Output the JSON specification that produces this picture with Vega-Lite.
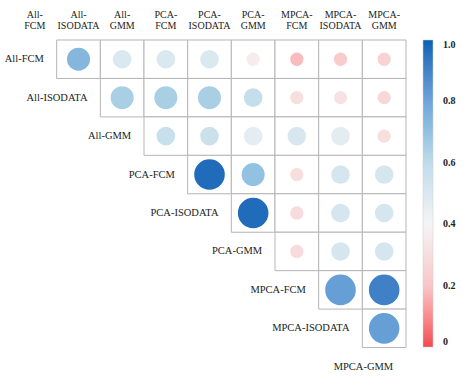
{
  "$schema": "https://vega.github.io/schema/vega-lite/v6.json",
  "width": 393,
  "height": 346,
  "autosize": {"type": "none"},
  "padding": {"left": 13, "top": 40, "right": 68, "bottom": 0},
  "config": {"view": {"stroke": null}, "font": "'Liberation Serif', 'Times New Roman', serif"},
  "datasets": {
    "cells": [
      {"r": "All-FCM", "c": "All-ISODATA", "v": 0.74},
      {"r": "All-FCM", "c": "All-GMM", "v": 0.5},
      {"r": "All-FCM", "c": "PCA-FCM", "v": 0.5},
      {"r": "All-FCM", "c": "PCA-ISODATA", "v": 0.5},
      {"r": "All-FCM", "c": "PCA-GMM", "v": 0.36},
      {"r": "All-FCM", "c": "MPCA-FCM", "v": 0.18},
      {"r": "All-FCM", "c": "MPCA-ISODATA", "v": 0.22},
      {"r": "All-FCM", "c": "MPCA-GMM", "v": 0.25},
      {"r": "All-ISODATA", "c": "All-GMM", "v": 0.65},
      {"r": "All-ISODATA", "c": "PCA-FCM", "v": 0.65},
      {"r": "All-ISODATA", "c": "PCA-ISODATA", "v": 0.65},
      {"r": "All-ISODATA", "c": "PCA-GMM", "v": 0.58},
      {"r": "All-ISODATA", "c": "MPCA-FCM", "v": 0.3},
      {"r": "All-ISODATA", "c": "MPCA-ISODATA", "v": 0.32},
      {"r": "All-ISODATA", "c": "MPCA-GMM", "v": 0.27},
      {"r": "All-GMM", "c": "PCA-FCM", "v": 0.57},
      {"r": "All-GMM", "c": "PCA-ISODATA", "v": 0.56},
      {"r": "All-GMM", "c": "PCA-GMM", "v": 0.46},
      {"r": "All-GMM", "c": "MPCA-FCM", "v": 0.51},
      {"r": "All-GMM", "c": "MPCA-ISODATA", "v": 0.47},
      {"r": "All-GMM", "c": "MPCA-GMM", "v": 0.3},
      {"r": "PCA-FCM", "c": "PCA-ISODATA", "v": 0.97},
      {"r": "PCA-FCM", "c": "PCA-GMM", "v": 0.7},
      {"r": "PCA-FCM", "c": "MPCA-FCM", "v": 0.3},
      {"r": "PCA-FCM", "c": "MPCA-ISODATA", "v": 0.52},
      {"r": "PCA-FCM", "c": "MPCA-GMM", "v": 0.52},
      {"r": "PCA-ISODATA", "c": "PCA-GMM", "v": 0.97},
      {"r": "PCA-ISODATA", "c": "MPCA-FCM", "v": 0.29},
      {"r": "PCA-ISODATA", "c": "MPCA-ISODATA", "v": 0.52},
      {"r": "PCA-ISODATA", "c": "MPCA-GMM", "v": 0.52},
      {"r": "PCA-GMM", "c": "MPCA-FCM", "v": 0.29},
      {"r": "PCA-GMM", "c": "MPCA-ISODATA", "v": 0.52},
      {"r": "PCA-GMM", "c": "MPCA-GMM", "v": 0.52},
      {"r": "MPCA-FCM", "c": "MPCA-ISODATA", "v": 0.82},
      {"r": "MPCA-FCM", "c": "MPCA-GMM", "v": 0.91},
      {"r": "MPCA-ISODATA", "c": "MPCA-GMM", "v": 0.82}
    ],
    "methods": [
      {"m": "All-FCM"}, {"m": "All-ISODATA"}, {"m": "All-GMM"},
      {"m": "PCA-FCM"}, {"m": "PCA-ISODATA"}, {"m": "PCA-GMM"},
      {"m": "MPCA-FCM"}, {"m": "MPCA-ISODATA"}, {"m": "MPCA-GMM"}
    ]
  },
  "layer": [
    {
      "data": {"name": "cells"},
      "mark": {"type": "rect", "fill": "white", "stroke": "#b5b5b5", "strokeWidth": 1},
      "encoding": {
        "x": {"field": "c", "type": "nominal",
          "scale": {"type": "band", "paddingInner": 0, "paddingOuter": 0, "domain": ["All-FCM","All-ISODATA","All-GMM","PCA-FCM","PCA-ISODATA","PCA-GMM","MPCA-FCM","MPCA-ISODATA","MPCA-GMM"]},
          "axis": {"orient": "top", "title": null, "ticks": false, "domain": false, "labelAngle": 0, "labelFontSize": 10, "labelColor": "#222", "labelFont": "'Liberation Serif', 'Times New Roman', serif", "labelPadding": 31, "labelBaseline": "top", "labelLineHeight": 11.5, "labelOverlap": false, "labelBound": false, "labelFlush": false,
            "labelExpr": "[split(datum.label,'-')[0] + '-', split(datum.label,'-')[1]]"}},
        "y": {"field": "r", "type": "nominal",
          "scale": {"type": "band", "paddingInner": 0, "paddingOuter": 0, "domain": ["All-FCM","All-ISODATA","All-GMM","PCA-FCM","PCA-ISODATA","PCA-GMM","MPCA-FCM","MPCA-ISODATA","MPCA-GMM"]},
          "axis": null}
      }
    },
    {
      "data": {"name": "cells"},
      "mark": {"type": "circle", "opacity": 1},
      "encoding": {
        "x": {"field": "c", "type": "nominal"},
        "y": {"field": "r", "type": "nominal"},
        "color": {"field": "v", "type": "quantitative",
          "scale": {"domain": [0, 0.2, 0.4, 0.6, 0.8, 1], "range": ["#ef4a4f", "#f8c6c9", "#f5f5f5", "#bfdcea", "#6ea5da", "#0962b4"]},
          "legend": {"orient": "none", "legendX": 410, "legendY": 0, "direction": "vertical", "title": null,
            "gradientLength": 307, "gradientThickness": 10, "gradientStrokeColor": "#cccccc", "gradientStrokeWidth": 0.5,
            "values": [0, 0.2, 0.4, 0.6, 0.8, 1],
            "labelExpr": "datum.value == 0 ? '0' : format(datum.value, '.1f')",
            "labelFont": "'Liberation Serif', 'Times New Roman', serif", "labelFontWeight": "bold", "labelFontSize": 10, "labelColor": "#222", "labelOffset": 10, "labelBaseline": "middle"}},
        "size": {"field": "v", "type": "quantitative",
          "scale": {"type": "threshold", "domain": [0.4, 0.62, 0.78], "range": [177, 346, 531, 935]},
          "legend": null}
      }
    },
    {
      "data": {"name": "methods"},
      "mark": {"type": "text", "align": "right", "baseline": "middle", "dx": 9, "fontSize": 10.5, "color": "#222", "font": "'Liberation Serif', 'Times New Roman', serif"},
      "encoding": {
        "x": {"field": "m", "type": "nominal"},
        "y": {"field": "m", "type": "nominal"},
        "text": {"field": "m"}
      }
    }
  ]
}
